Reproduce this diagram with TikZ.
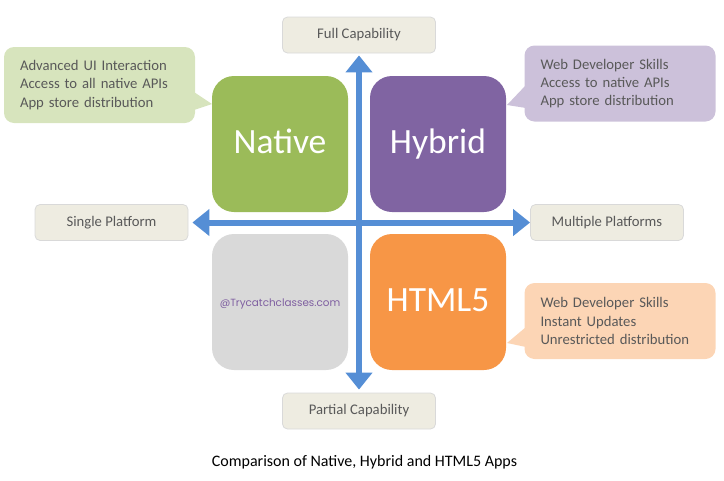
\documentclass[tikz,border=0pt]{standalone}
\usepackage{fontspec}
\setmainfont{Carlito}
\newfontfamily\wmfont{Poppins}
\usepackage{tikz}
\usetikzlibrary{arrows.meta}

\definecolor{nativegreen}{HTML}{9BBB59}
\definecolor{hybridpurple}{HTML}{8064A2}
\definecolor{htmlorange}{HTML}{F79646}
\definecolor{blankgray}{HTML}{D9D9D9}
\definecolor{nativenote}{HTML}{D7E4BD}
\definecolor{hybridnote}{HTML}{CCC1DA}
\definecolor{htmlnote}{HTML}{FCD5B5}
\definecolor{labelfill}{HTML}{EEECE1}
\definecolor{labeldraw}{HTML}{D9D9D9}
\definecolor{textgray}{HTML}{595959}
\definecolor{axisblue}{HTML}{558ED5}
\definecolor{wmpurple}{HTML}{7F5FA1}

\begin{document}
\begin{tikzpicture}[x=1pt,y=-1pt,
    quad/.style={rounded corners=22pt, minimum width=136pt, minimum height=136pt,
      inner sep=0pt, text height=18pt, text depth=0pt, text=white,
      font=\fontsize{35.5}{40}\selectfont},
    lbl/.style={rounded corners=5pt, fill=labelfill, draw=labeldraw, line width=0.8pt,
      minimum width=153pt, minimum height=36pt, inner sep=0pt, text=textgray,
      font=\fontsize{14.7}{18}\selectfont},
    note/.style={rounded corners=10pt, minimum height=76pt, inner xsep=16pt,
      text width=159pt, align=left, text=textgray,
      font=\fontsize{14.7}{18.2}\selectfont},
    axis/.style={draw=axisblue, line width=6pt,
      {Triangle[width=26pt,length=17pt]}-{Triangle[width=26pt,length=17pt]}}]
      \useasboundingbox (0,0) rectangle (724,480);
      \node[quad, fill=nativegreen] (native) at (280,144) {Native};
      \node[quad, fill=hybridpurple] (hybrid) at (438,144) {Hybrid};
      \node[quad, fill=blankgray, text=wmpurple, text height=8pt, font=\wmfont\fontsize{10.4}{12}\selectfont] (blank) at (280,302) {@Trycatchclasses.com};
      \node[quad, fill=htmlorange] (html) at (438,302) {HTML5};
      \node[lbl] (full) at (359,35) {Full Capability};
      \node[lbl] (partial) at (359,411) {Partial Capability};
      \node[lbl] (single) at (111.5,222.5) {Single Platform};
      \node[lbl] (multiple) at (607,222.5) {Multiple Platforms};
      \draw [axis, shorten <=2pt, shorten >=3pt] (full) -- (partial);
      \draw [axis, shorten <=4pt] (single) -- (multiple);
      \fill[nativenote] (194,92) -- (212,104) -- (194,110) -- cycle;
      \node[note, fill=nativenote] (nativepros) at (99.5,85) {Advanced UI Interaction\\Access to all native APIs\\App store distribution};
      \fill[hybridnote] (526,85) -- (507,105) -- (526,108) -- cycle;
      \node[note, fill=hybridnote] (hybridpros) at (620,83.5) {Web Developer Skills\\Access to native APIs\\App store distribution};
      \fill[htmlnote] (526,327) -- (507,343) -- (526,347) -- cycle;
      \node[note, fill=htmlnote] (htmlpros) at (620,321) {Web Developer Skills\\Instant Updates\\Unrestricted distribution};
      \node[font=\fontsize{16}{19}\selectfont] (caption) at (364.5,462) {Comparison of Native, Hybrid and HTML5 Apps};
    \end{tikzpicture}
\end{document}
